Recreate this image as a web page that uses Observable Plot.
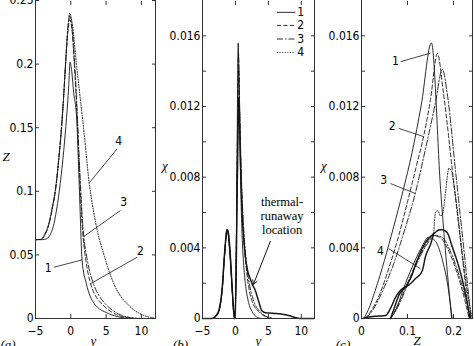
<!DOCTYPE html>
<html><head><meta charset="utf-8">
<script src="https://cdn.jsdelivr.net/npm/d3@7"></script>
<script src="https://cdn.jsdelivr.net/npm/@observablehq/plot@0.6"></script>
<style>
body{margin:0;background:#fff;}
#fig{position:relative;width:474px;height:346px;overflow:hidden;background:#fff;}
</style></head><body><div id="fig"></div>
<script>
// ---------- data ----------
const curveKeys = ["1", "2", "3", "4"];

// axis ticks / labels
const yPosTicks = [-5, 0, 5, 10];
const yPosLabels = ["\u22125", "0", "5", "10"];
const zTicks = [0, 0.05, 0.1, 0.15, 0.2, 0.25];
const zTickLabels = ["0", "0.05", "0.1", "0.15", "0.2", "0.25"];
const chiTicks = [0, 0.002, 0.004, 0.006, 0.008, 0.01, 0.012, 0.014, 0.016];
const chiTickLabels = ["0", "", "0.004", "", "0.008", "", "0.012", "", "0.016"];
const zAxisTicks = [0, 0.1, 0.2];
const zAxisTickLabels = ["0", "0.1", "0.2"];

// panel (a): Z versus y
const zCurve1 = [[-5,0.062],[-4,0.062],[-3.5,0.0625],[-3,0.065],[-2.5,0.072],[-2,0.086],[-1.5,0.106],[-1,0.132],[-0.6,0.158],[-0.3,0.182],[-0.1,0.2015],[0.1,0.196],[0.4,0.178],[0.85,0.156],[1.1,0.12],[1.3,0.088],[1.6,0.0456],[2.2,0.0275],[3.3,0.0118],[5.3,0.004],[7,0.001],[8.5,0],[12,0]];
const zCurve2 = [[-5,0.062],[-4.2,0.0622],[-3.8,0.0645],[-3.1,0.074],[-2.6,0.087],[-2.2,0.1],[-1.7,0.126],[-1.3,0.152],[-1.0,0.176],[-0.7,0.203],[-0.4,0.226],[-0.15,0.235],[0.15,0.228],[0.5,0.2],[0.75,0.175],[0.95,0.15],[1.15,0.125],[1.35,0.1],[1.6,0.075],[1.75,0.064],[2.1,0.047],[2.8,0.0275],[3.5,0.018],[4.4,0.0115],[5.4,0.0065],[6.5,0.003],[7.5,0.0012],[8.5,0.0003],[10,0],[12,0]];
const zCurve3 = [[-5,0.062],[-4.2,0.0622],[-3.8,0.0648],[-3.1,0.0745],[-2.6,0.0875],[-2.2,0.1],[-1.7,0.1255],[-1.3,0.151],[-1.0,0.176],[-0.72,0.202],[-0.42,0.228],[-0.15,0.238],[0.15,0.23],[0.55,0.2],[0.8,0.175],[1.0,0.15],[1.2,0.125],[1.42,0.1],[1.65,0.077],[1.85,0.064],[2.3,0.047],[3.2,0.0275],[4.0,0.018],[4.9,0.0115],[5.9,0.0065],[7,0.003],[8,0.0012],[9,0.0003],[10.5,0],[12,0]];
const zCurve4 = [[-5,0.062],[-4.2,0.0622],[-3.8,0.065],[-3.1,0.075],[-2.6,0.088],[-2.2,0.1],[-1.7,0.125],[-1.3,0.15],[-1.0,0.175],[-0.75,0.2],[-0.45,0.225],[-0.15,0.24],[0.2,0.232],[0.8,0.2],[1.4,0.17],[1.9,0.145],[2.6,0.107],[3.2,0.085],[3.8,0.068],[4.7,0.05],[5.5,0.036],[6.2,0.026],[7,0.018],[8,0.0115],[9,0.0065],[10.3,0.0025],[11.2,0.001],[12,0.0003]];

// panel (b): chi versus y
const chiCurve1 = [[-5,0],[-3.6,0],[-3,0.0001],[-2.5,0.0004],[-2,0.0016],[-1.65,0.0035],[-1.3,0.0049],[-1.15,0.0048],[-0.86,0.0037],[-0.5,0.0016],[-0.25,0.0003],[-0.08,0],[0.08,0.0025],[0.25,0.0095],[0.42,0.0156],[0.6,0.0115],[0.8,0.0075],[1.0,0.0048],[1.3,0.0028],[1.6,0.0017],[2.0,0.0009],[2.5,0.0004],[3.2,0.0001],[4,0],[12,0]];
const chiCurve2 = [[-5,0],[-3.6,0],[-3,0.00012],[-2.5,0.00045],[-2,0.0017],[-1.65,0.0036],[-1.28,0.00503],[-1.1,0.0048],[-0.85,0.0038],[-0.5,0.0017],[-0.25,0.0003],[-0.08,0],[0.08,0.0024],[0.27,0.0092],[0.46,0.015],[0.65,0.0115],[0.9,0.0077],[1.2,0.005],[1.6,0.003],[2.0,0.0018],[2.5,0.001],[3.0,0.0006],[3.5,0.0004],[4.5,0.00012],[6,0],[12,0]];
const chiCurve3 = [[-5,0],[-3.6,0],[-3,0.00012],[-2.5,0.00047],[-2,0.0017],[-1.65,0.0036],[-1.27,0.00503],[-1.1,0.0049],[-0.85,0.0039],[-0.5,0.0017],[-0.25,0.0003],[-0.08,0],[0.08,0.0022],[0.28,0.0088],[0.5,0.0141],[0.7,0.0108],[0.95,0.0075],[1.3,0.0048],[1.7,0.003],[2.1,0.002],[2.6,0.0012],[3.1,0.0007],[3.7,0.0004],[4.5,0.00015],[6,0],[12,0]];
const chiCurve4 = [[-5,0],[-3.6,0],[-3,0.00015],[-2.5,0.0005],[-2,0.0018],[-1.65,0.0037],[-1.26,0.00503],[-1.1,0.0049],[-0.85,0.004],[-0.5,0.0018],[-0.25,0.0003],[-0.08,0],[0.08,0.002],[0.3,0.008],[0.52,0.0125],[0.75,0.0092],[1.0,0.0062],[1.4,0.0039],[1.8,0.0028],[2.2,0.0023],[2.6,0.0019],[3.0,0.0016],[3.5,0.001],[4.0,0.00045],[4.5,0.00033],[5.5,0.0003],[7,0.00025],[8.1,0.00017],[9,0.00006],[9.8,0],[12,0]];

// panel (c): chi versus Z, two branches per case (y > 0 side "R", y < 0 side "L")
const mapR1 = [[0.005,0],[0.015,0.0005],[0.03,0.0016],[0.05,0.0033],[0.07,0.0052],[0.09,0.0072],[0.11,0.0094],[0.13,0.0121],[0.152,0.0156],[0.172,0.0073],[0.196,0]];
const mapL1 = [[0.063,0],[0.075,0.0005],[0.09,0.0016],[0.11,0.0029],[0.13,0.004],[0.146,0.0046],[0.16,0.0044],[0.175,0.0034],[0.188,0.0018],[0.197,0]];
const mapR2 = [[0.008,0],[0.02,0.0004],[0.04,0.0014],[0.06,0.0029],[0.08,0.0046],[0.1,0.0066],[0.12,0.0087],[0.135,0.0103],[0.15,0.0124],[0.165,0.015],[0.178,0.0128],[0.2,0.0078],[0.22,0.0033],[0.234,0]];
const mapL2 = [[0.063,0],[0.08,0.0008],[0.1,0.002],[0.12,0.0032],[0.14,0.0042],[0.155,0.0047],[0.17,0.0046],[0.19,0.0038],[0.21,0.0024],[0.225,0.001],[0.234,0]];
const mapR3 = [[0.01,0],[0.025,0.0005],[0.05,0.0018],[0.07,0.0031],[0.09,0.0047],[0.117,0.0071],[0.14,0.0097],[0.16,0.0121],[0.176,0.0141],[0.186,0.0128],[0.205,0.0082],[0.225,0.0033],[0.238,0]];
const mapL3 = [[0.063,0],[0.08,0.0007],[0.1,0.0019],[0.12,0.0031],[0.14,0.0041],[0.16,0.0047],[0.175,0.0046],[0.195,0.0037],[0.215,0.0022],[0.23,0.0008],[0.238,0]];
const mapR4low = [[0.002,0],[0.02,0.0001],[0.052,0.00017],[0.063,0.00057],[0.074,0.0012],[0.085,0.0016],[0.103,0.0019],[0.117,0.00225],[0.132,0.0027],[0.139,0.0035],[0.15,0.0042],[0.157,0.0048]];
const mapR4high = [[0.157,0.0048],[0.161,0.006],[0.166,0.0061],[0.172,0.0058],[0.177,0.006],[0.183,0.0072],[0.19,0.0085],[0.196,0.0083],[0.205,0.0068],[0.22,0.0035],[0.232,0.0012],[0.241,0]];
const mapL4 = [[0.063,0],[0.07,0.0005],[0.081,0.0013],[0.096,0.0018],[0.107,0.0023],[0.121,0.0033],[0.139,0.0043],[0.157,0.0048],[0.172,0.00503],[0.185,0.0049],[0.198,0.004],[0.212,0.0029],[0.226,0.0014],[0.236,0]];

// annotations (data coordinates)
const aLabelAt = [[-3.2,0.0399],[9.87,0.0529],[7.5,0.0914],[6.8,0.1394]];
const aLeaderFrom = [[-2.41,0.0403],[9.4,0.0482],[7.04,0.0849],[6.57,0.1334]];
const aLeaderTo = [[1.61,0.0461],[2.79,0.0273],[1.84,0.0645],[2.69,0.1072]];
const cLabelAt = [[0.074,0.01454],[0.0667,0.01089],[0.0485,0.00783],[0.0413,0.00382]];
const cLeaderFrom = [[0.0848,0.01454],[0.0811,0.01076],[0.063,0.00764],[0.0594,0.00395]];
const cLeaderTo = [[0.15,0.01502],[0.1354,0.01029],[0.1174,0.00707],[0.1283,0.00282]];
const legendChi = [0.01733, 0.01659, 0.01582, 0.01506];
const legendSpan = [6.3, 9.1];
const legendTextAt = 9.4;
const noteText = ["thermal-", "runaway", "location"];
const noteAt = [7.08, 0.00584];
const arrowFrom = [5.3, 0.00437];
const arrowTo = [2.73, 0.00193];
const panelTags = ["(a)", "(b)", "(c)"];

// ---------- styling (not data) ----------
const ink = "#151515";
const sans = "'Liberation Sans Narrow','Arial Narrow','DejaVu Sans Condensed',sans-serif";
const serif = "'Liberation Serif','Times New Roman',serif";
const styleOf = {
  "1": {strokeWidth: 0.9},
  "2": {strokeWidth: 0.9, strokeDasharray: "4,2.5"},
  "3": {strokeWidth: 0.9, strokeDasharray: "6,2,1.5,2"},
  "4": {strokeWidth: 1, strokeDasharray: "1,1.6"}
};
const thick4 = {strokeWidth: 1.5, strokeDasharray: "1.4,0.8"};

function rowsOf(pts, branch) { return pts.map(([x, y]) => ({x, y, branch})); }
function curveLine(rows, st) {
  return Plot.line(rows, {x: "x", y: "y", z: "branch", curve: "monotone-x", stroke: ink, ...st});
}
function fmt(ticks, labels) {
  return d => { const i = ticks.findIndex(t => Math.abs(t - d) < 1e-9); return i < 0 ? "" : labels[i]; };
}
function labelMarks(at, from, to) {
  const rows = curveKeys.map((k, i) => ({k, x: at[i][0], y: at[i][1], x1: from[i][0], y1: from[i][1], x2: to[i][0], y2: to[i][1]}));
  return [
    Plot.link(rows, {x1: "x1", y1: "y1", x2: "x2", y2: "y2", stroke: ink, strokeWidth: 0.8}),
    Plot.text(rows, {x: "x", y: "y", text: "k", fontSize: 12, fontFamily: sans, fill: "#000"})
  ];
}
const centered = {textAnchor: "middle", lineAnchor: "middle", fontFamily: serif, fontStyle: "italic", fontSize: 13, fill: "#000", text: d => d};
function panel(o) {
  const svg = Plot.plot({
    width: o.width, height: 346, marginTop: 0, marginBottom: 28,
    marginLeft: o.marginLeft, marginRight: o.marginRight,
    style: {fontFamily: sans, fontSize: "12px", color: "#000", background: "transparent", overflow: "visible"},
    x: {domain: o.xDomain, label: null},
    y: {domain: o.yDomain, label: null},
    marks: [
      ...o.marks,
      Plot.frame({stroke: "#333", insetTop: -1.5}),
      Plot.axisX(o.xTicks, {anchor: "bottom", tickSize: -4, tickPadding: 12, tickFormat: fmt(o.xTicks, o.xLabels), label: null, stroke: "#333"}),
      Plot.axisX(o.xTicks, {anchor: "top", tickSize: -4, tickFormat: () => "", label: null, stroke: "#333"}),
      Plot.axisY(o.yTicks, {anchor: "left", tickSize: -4, tickPadding: 6, tickFormat: fmt(o.yTicks, o.yLabels), label: null, stroke: "#333"}),
      Plot.axisY(o.yTicks, {anchor: "right", tickSize: -4, tickFormat: () => "", label: null, stroke: "#333"}),
      Plot.text([o.yName], {...centered, frameAnchor: "left", dx: o.yNameDx, dy: o.yNameDy}),
      Plot.text([o.xName], {...centered, frameAnchor: "bottom", dx: o.xNameDx, dy: 22.5}),
      Plot.text([o.tag], {...centered, frameAnchor: "bottom-left", dx: o.tagDx, dy: 26})
    ]
  });
  svg.style.position = "absolute";
  svg.style.left = o.left + "px";
  svg.style.top = "0px";
  return svg;
}

const fig = document.getElementById("fig");

// panel (a)
const zCurves = [zCurve1, zCurve2, zCurve3, zCurve4];
fig.appendChild(panel({
  left: 0, width: 160, marginLeft: 35, marginRight: 5,
  xDomain: [-5, 12], yDomain: [0, 0.25],
  xTicks: yPosTicks, xLabels: yPosLabels, yTicks: zTicks, yLabels: zTickLabels,
  yName: "Z", yNameDx: -29.5, yNameDy: -3, xName: "y", xNameDx: -2, tag: panelTags[0], tagDx: -27.5,
  marks: [
    ...zCurves.map((c, i) => curveLine(rowsOf(c, "a"), styleOf[curveKeys[i]])),
    ...labelMarks(aLabelAt, aLeaderFrom, aLeaderTo)
  ]
}));

// panel (b)
const chiCurves = [chiCurve1, chiCurve2, chiCurve3, chiCurve4];
const legendRows = curveKeys.map((k, i) => ({k, chi: legendChi[i]}));
fig.appendChild(panel({
  left: 160, width: 158, marginLeft: 42, marginRight: 4,
  xDomain: [-5, 12], yDomain: [0, 0.018],
  xTicks: yPosTicks, xLabels: yPosLabels, yTicks: chiTicks, yLabels: chiTickLabels,
  yName: "\u03c7", yNameDx: -37.7, yNameDy: 6.7, xName: "y", xNameDx: 0, tag: panelTags[1], tagDx: -22,
  marks: [
    ...chiCurves.map((c, i) => curveLine(rowsOf(c, "b"), i === 3 ? thick4 : styleOf[curveKeys[i]])),
    ...legendRows.map((r) => Plot.link([r], {x1: () => legendSpan[0], x2: () => legendSpan[1], y1: "chi", y2: "chi", stroke: ink, ...styleOf[r.k]})),
    Plot.text(legendRows, {x: () => legendTextAt, y: "chi", text: "k", textAnchor: "start", fontSize: 12, fontFamily: sans, fill: "#000"}),
    Plot.text([noteText.join("\n")], {x: () => noteAt[0], y: () => noteAt[1], text: d => d, fontFamily: serif, fontSize: 12.5, lineHeight: 1.13, fill: "#000"}),
    Plot.arrow([0], {x1: () => arrowFrom[0], y1: () => arrowFrom[1], x2: () => arrowTo[0], y2: () => arrowTo[1], stroke: ink, strokeWidth: 1, headLength: 7})
  ]
}));

// panel (c)
const mapsR = [mapR1, mapR2, mapR3];
const mapsL = [mapL1, mapL2, mapL3];
fig.appendChild(panel({
  left: 318, width: 156, marginLeft: 43, marginRight: 2,
  xDomain: [0, 0.2413], yDomain: [0, 0.018],
  xTicks: zAxisTicks, xLabels: zAxisTickLabels, yTicks: chiTicks, yLabels: chiTickLabels,
  yName: "\u03c7", yNameDx: -37.7, yNameDy: 6, xName: "Z", xNameDx: 0, tag: panelTags[2], tagDx: -18.5,
  marks: [
    ...mapsR.map((c, i) => curveLine([...rowsOf(c, "R"), ...rowsOf(mapsL[i], "L")], styleOf[curveKeys[i]])),
    curveLine([...rowsOf(mapR4low, "R"), ...rowsOf(mapL4, "L")], thick4),
    curveLine(rowsOf(mapR4high, "R"), styleOf["4"]),
    ...labelMarks(cLabelAt, cLeaderFrom, cLeaderTo)
  ]
}));
</script></body></html>
